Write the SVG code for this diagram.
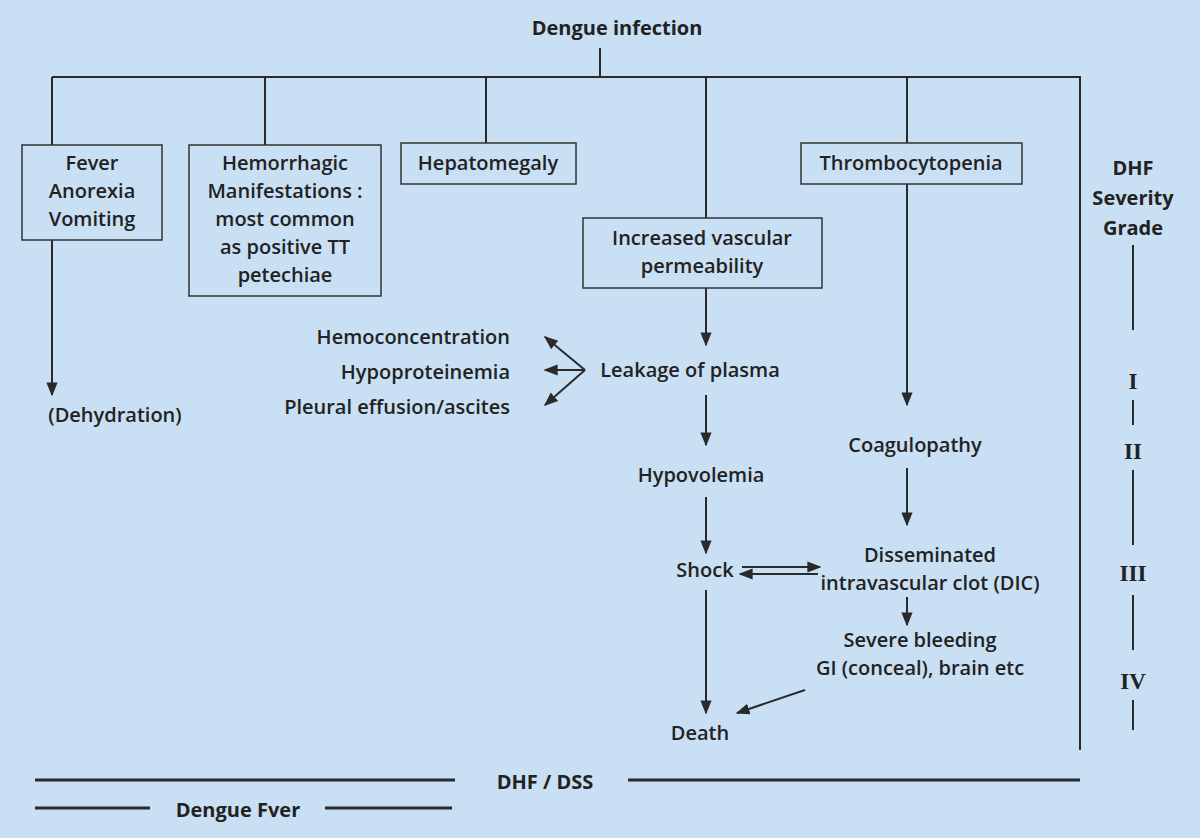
<svg xmlns="http://www.w3.org/2000/svg" width="1200" height="838" viewBox="0 0 1200 838">
<defs>
<marker id="ah" viewBox="0 0 10 10" refX="9" refY="5" markerWidth="7" markerHeight="7" orient="auto-start-reverse"><path d="M0,1 L10,5 L0,9 z" fill="#2a2a2a"/></marker>
<style>
text{font-family:"Open Sans","Liberation Sans",sans-serif;font-size:20px;fill:#222;text-anchor:middle;font-weight:600}
.b{font-weight:700}
.r{font-family:"Liberation Serif",serif;font-size:23px;font-weight:700}
.l{stroke:#2a2a2a;stroke-width:2;fill:none}
.t{stroke:#2a2a2a;stroke-width:3;fill:none}
.a{stroke:#2a2a2a;stroke-width:2;fill:none;marker-end:url(#ah)}
rect{fill:#c9dff3;stroke:#333;stroke-width:1.5}
</style>
</defs>
<rect x="0" y="0" width="1200" height="838" style="stroke:none"/>
<g id="connectors">
<path class="l" d="M600,48V77M52,77H1080V750M52,77V145M265,77V145M486,77V143M706,77V218M907,77V143"/>
<path class="a" d="M52,240V395"/>
<path class="a" d="M706,288V345"/>
<path class="a" d="M585,370L545,337"/><path class="a" d="M585,370H545"/><path class="a" d="M585,370L545,405"/>
<path class="a" d="M706,395V445"/><path class="a" d="M706,497V553"/><path class="a" d="M706,590V713"/>
<path class="a" d="M907,184V405"/><path class="a" d="M907,468V525"/><path class="a" d="M907,597V625"/>
<path class="a" d="M742,567H820"/><path class="a" d="M818,574H740"/>
<path class="a" d="M805,690L737,713"/>
<path class="l" d="M1133,245V330M1133,400V425M1133,470V545M1133,595V650M1133,700V730"/>
<path class="t" d="M35,780H455M628,780H1080M35,808H150M325,808H452"/>
</g>
<g id="title"><text class="b" x="617" y="35">Dengue infection</text></g>
<g id="fever"><rect x="22" y="145" width="140" height="95"/><text x="92" y="170">Fever</text><text x="92" y="198">Anorexia</text><text x="92" y="226">Vomiting</text></g>
<g id="hemorrhagic"><rect x="189" y="145" width="192" height="151"/><text x="285" y="170">Hemorrhagic</text><text x="285" y="198">Manifestations :</text><text x="285" y="226">most common</text><text x="285" y="254">as positive TT</text><text x="285" y="282">petechiae</text></g>
<g id="hepato"><rect x="401" y="143" width="175" height="41"/><text x="488" y="170">Hepatomegaly</text></g>
<g id="thrombo"><rect x="801" y="143" width="221" height="41"/><text x="911" y="170">Thrombocytopenia</text></g>
<g id="vascular"><rect x="583" y="218" width="239" height="70"/><text x="702" y="245">Increased vascular</text><text x="702" y="273">permeability</text></g>
<g id="dehyd"><text x="115" y="422">(Dehydration)</text></g>
<g id="effects"><text x="510" y="344" style="text-anchor:end">Hemoconcentration</text><text x="510" y="379" style="text-anchor:end">Hypoproteinemia</text><text x="510" y="414" style="text-anchor:end">Pleural effusion/ascites</text></g>
<g id="leakage"><text x="690" y="377">Leakage of plasma</text></g>
<g id="hypovolemia"><text x="701" y="482">Hypovolemia</text></g>
<g id="shock"><text x="705" y="577">Shock</text></g>
<g id="death"><text x="700" y="740">Death</text></g>
<g id="coag"><text x="915" y="452">Coagulopathy</text></g>
<g id="dic"><text x="930" y="562">Disseminated</text><text x="930" y="590">intravascular clot (DIC)</text></g>
<g id="bleeding"><text x="920" y="647">Severe bleeding</text><text x="920" y="675">GI (conceal), brain etc</text></g>
<g id="grade"><text class="b" x="1133" y="175">DHF</text><text class="b" x="1133" y="205">Severity</text><text class="b" x="1133" y="235">Grade</text>
<text class="r" x="1133" y="389">I</text><text class="r" x="1133" y="459">II</text><text class="r" x="1133" y="581">III</text><text class="r" x="1133" y="689">IV</text></g>
<g id="bottom"><text class="b" x="545" y="789">DHF / DSS</text><text class="b" x="238" y="817">Dengue Fver</text></g>
</svg>
